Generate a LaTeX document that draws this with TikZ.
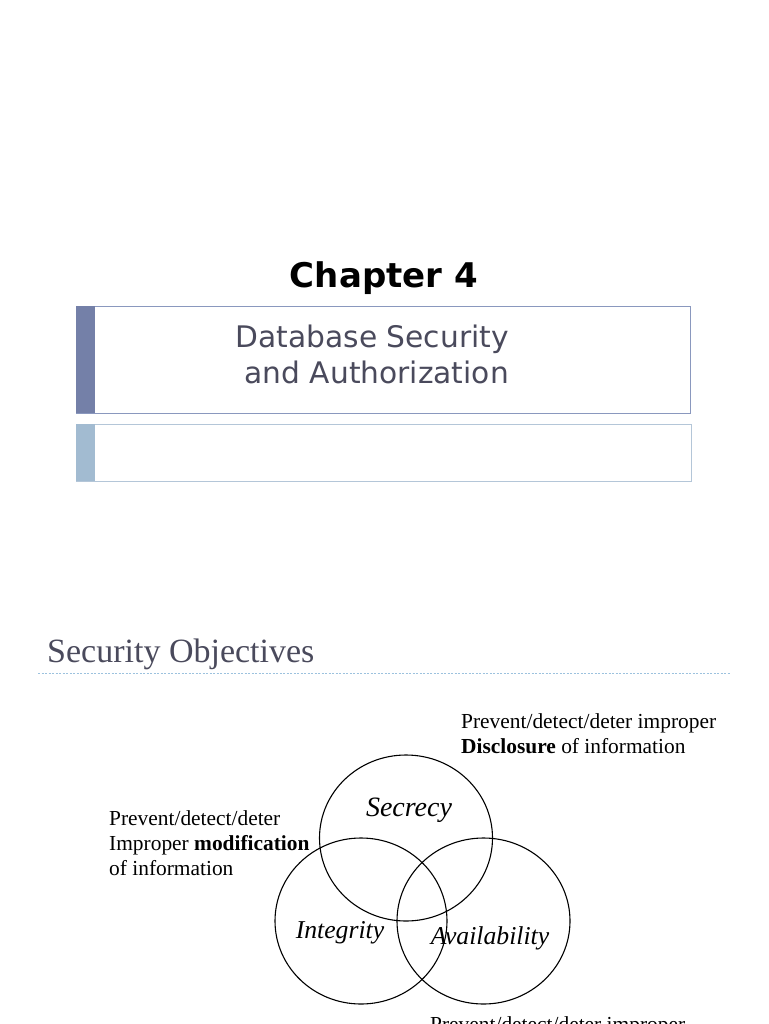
\documentclass[tikz,border=0pt]{standalone}
\usepackage{fontspec}
\setmainfont{Liberation Serif}
\newfontfamily\slidesans{DejaVu Sans}
\usetikzlibrary{positioning}
\definecolor{ink}{HTML}{4A4A5C}
\definecolor{barblue}{HTML}{7480A8}
\definecolor{barpale}{HTML}{A2BBD1}
\definecolor{edgeblue}{HTML}{8A98BE}
\definecolor{edgepale}{HTML}{B4C6D8}
\definecolor{rule}{HTML}{9CC2DE}

\begin{document}
\begin{tikzpicture}[x=1pt,y=-1pt,
  body/.style={font=\fontsize{21.4}{25}\selectfont,align=left,inner sep=0pt,anchor=base west},
  tag/.style={font=\fontsize{25.7}{30}\selectfont\itshape,inner sep=0pt,anchor=base},
  ring/.style={line width=1.1pt}]
  \clip (0,0) rectangle (768,1024);
  % title slide
  \node[font=\slidesans\bfseries\fontsize{34}{40}\selectfont,inner sep=0pt,anchor=base] (chap) at (384,287) {Chapter 4};
  \draw[edgeblue,line width=0.8pt] (76,306) rectangle (690,413);
  \fill[barblue] (76,306) rectangle (95,413);
  \node[font=\slidesans\fontsize{29.7}{36}\selectfont,text=ink,align=right,inner sep=0pt,anchor=base east] (title) at (509,383) {Database Security\\and Authorization};
  \draw[edgepale,line width=0.8pt] (76,424) rectangle (691,481);
  \fill[barpale] (76,424) rectangle (95,481);
  % objectives slide
  \node[font=\fontsize{34}{40}\selectfont,text=ink,inner sep=0pt,anchor=base west] (head) at (47,662) {Security Objectives};
  \draw[rule,dash pattern=on 2pt off 1.5pt,line width=0.6pt] (38,673) -- (730,673);
  \draw[ring] (406,838) ellipse [x radius=86.5,y radius=83];
  \draw[ring] (361,921) ellipse [x radius=86,y radius=83];
  \draw[ring] (483.5,921) ellipse [x radius=86.5,y radius=83];
  \node[tag,font=\fontsize{28}{30}\selectfont\itshape] (sec) at (409,816) {Secrecy};
  \node[tag] (int) at (340,938) {Integrity};
  \node[tag] (ava) at (490,944) {Availability};
  \node[body] (dis) at (461,753) {Prevent/detect/deter improper\\\textbf{Disclosure} of information};
  \node[body] (mod) at (109,875) {Prevent/detect/deter\\Improper \textbf{modification}\\of information};
  \node[body] (den) at (430,1031) {Prevent/detect/deter improper};
\end{tikzpicture}
\end{document}
